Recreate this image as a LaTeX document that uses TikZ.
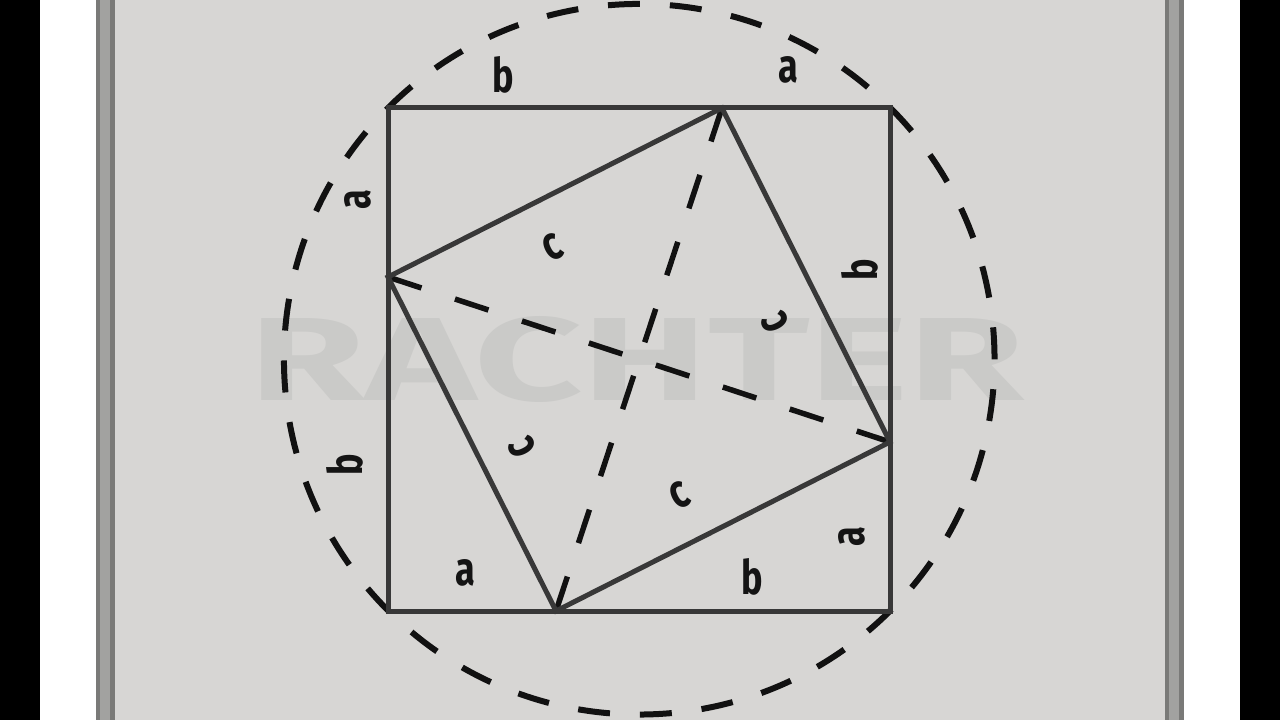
\documentclass[tikz,border=0pt]{standalone}
\usepackage{fontspec}
\setsansfont{Fira Sans}
\usepackage{graphicx}
\definecolor{panel}{HTML}{D7D6D4}
\definecolor{framemid}{HTML}{A2A2A0}
\definecolor{framedark}{HTML}{7A7A78}
\definecolor{wmark}{HTML}{CACAC8}
\definecolor{wmedge}{HTML}{BDBDBB}
\definecolor{sqcol}{HTML}{383838}
\definecolor{dashcol}{HTML}{111111}
\newcommand\mylab[1]{\scalebox{0.76}[1]{#1}}
\tikzset{
  sqline/.style={draw=sqcol, line width=0.1cm, line join=miter},
  diagline/.style={draw=dashcol, line width=0.11cm, dash pattern=on 0.705cm off 0.705cm},
  circline/.style={draw=dashcol, line width=0.12cm, dash pattern=on 0.64cm off 0.5992cm},
  lbl/.style={font=\sffamily\bfseries\fontsize{27}{27}\selectfont, text=black!92, inner sep=0pt},
  wm/.style={text=wmark, inner sep=0pt, font=\sffamily\bfseries}
}
\begin{document}
\begin{tikzpicture}[x=0.02cm,y=0.02cm]
\useasboundingbox (0,0) rectangle (1280,720);
% background
\fill[black] (0,0) rectangle (40,720);
\fill[black] (1240,0) rectangle (1280,720);
\fill[white] (40,0) rectangle (1240,720);
\fill[panel] (97,0) rectangle (1184,720);
% frame bars
\fill[framedark] (96,0) rectangle (115,720);
\fill[framemid] (100,0) rectangle (110,720);
\fill[framedark] (1165,0) rectangle (1184,720);
\fill[framemid] (1169,0) rectangle (1179,720);
% watermark
\node[wm] (wmtext) at (637,360) {\resizebox{15.5cm}{1.68cm}{RACHTER}};
% square corners
\coordinate (TL) at (388,612);
\coordinate (TR) at (890,612);
\coordinate (BR) at (890,109);
\coordinate (BL) at (388,109);
% inner square vertices
\coordinate (P1) at (722,612);
\coordinate (P2) at (890,278);
\coordinate (P3) at (556,109);
\coordinate (P4) at (388,443);
% circle
\draw[circline] (TL) arc[start angle=135, end angle=-225, radius=355.3];
% dashed diagonals
\draw[diagline] (P1) -- (P3);
\draw[diagline] (P4) -- (P2);
% squares
\draw[sqline] (TL) -- (TR) -- (BR) -- (BL) -- cycle;
\draw[sqline] (P1) -- (P2) -- (P3) -- (P4) -- cycle;
% labels
\node[lbl] (lb1) at (503,645) {\mylab{b}};
\node[lbl] (la1) at (788,650) {\mylab{a}};
\node[lbl, rotate=90] (la2) at (358,520) {\mylab{a}};
\node[lbl, rotate=26.6] (lc1) at (553,473) {\mylab{c}};
\node[lbl, rotate=90] (lb2) at (860,450) {\mylab{b}};
\node[lbl, rotate=116.6] (lc2) at (775,398) {\mylab{c}};
\node[lbl, rotate=90] (lb3) at (345,255) {\mylab{b}};
\node[lbl, rotate=116.6] (lc3) at (522,273) {\mylab{c}};
\node[lbl, rotate=26.6] (lc4) at (680,225) {\mylab{c}};
\node[lbl] (la3) at (465,147) {\mylab{a}};
\node[lbl] (lb4) at (752,143) {\mylab{b}};
\node[lbl, rotate=90] (la4) at (852,183) {\mylab{a}};
\end{tikzpicture}
\end{document}
